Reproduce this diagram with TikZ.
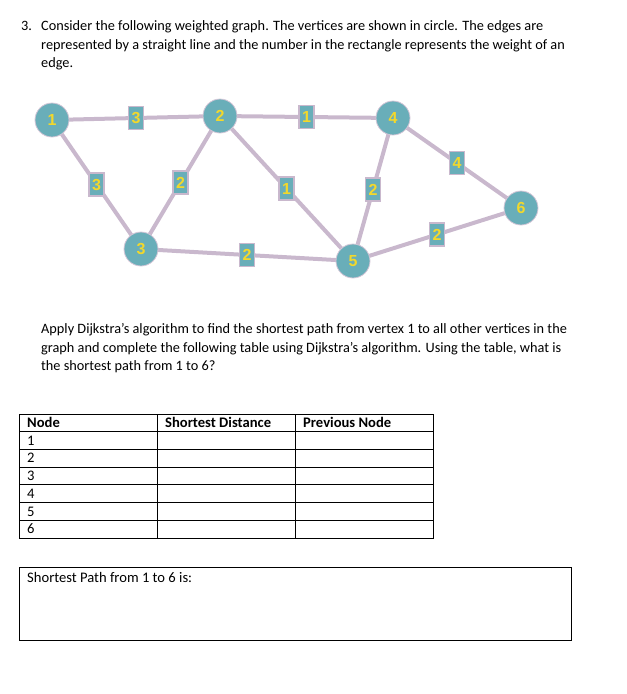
\documentclass[tikz,border=0pt]{standalone}
\usepackage{fontspec}
\setmainfont{Carlito}
\newfontfamily\labelfont{Liberation Sans}
\usetikzlibrary{positioning,backgrounds}
\definecolor{vertTeal}{HTML}{69AEB9}
\definecolor{edgeLilac}{HTML}{C9B8CD}
\definecolor{wtYellow}{HTML}{F2D82C}

\begin{document}
\begin{tikzpicture}[x=1pt, y=-1pt,
  vertex/.style={circle, fill=vertTeal, draw=edgeLilac!80, line width=0.8pt, minimum size=34pt,
    inner sep=0pt, font=\labelfont\bfseries\fontsize{16}{16}\selectfont, text=wtYellow},
  weight/.style={rectangle, fill=vertTeal, draw=edgeLilac, line width=1.6pt, minimum width=15pt,
    minimum height=23pt, inner sep=0pt, font=\labelfont\bfseries\fontsize{16}{16}\selectfont, text=wtYellow},
  link/.style={edgeLilac, line width=4pt},
  body/.style={font=\fontsize{14.3}{18.5}\selectfont, align=left, anchor=base west, inner sep=0pt},
  cell/.style={font=\fontsize{14.6}{18.5}\selectfont, anchor=base west, inner sep=0pt},
  head/.style={cell, font=\fontsize{14.6}{18.5}\selectfont\bfseries},
  grid/.style={black, line width=1pt}
]
  \useasboundingbox (0,0) rectangle (627,694);

  % question (base = last line)
  \node[body] (qnum) at (21,30.5) {3.};
  \node[body] (qtext) at (41,67.5)
    {Consider the following weighted graph. The vertices are shown in circle. The edges are\\
     represented by a straight line and the number in the rectangle represents the weight of an\\
     edge.};

  % graph
  \node[vertex] (v1) at (52,120) {1};
  \node[vertex] (v2) at (220,116) {2};
  \node[vertex] (v3) at (141,249) {3};
  \node[vertex] (v4) at (393,118) {4};
  \node[vertex] (v5) at (353,261) {5};
  \node[vertex] (v6) at (521,208) {6};

  \begin{scope}[on background layer]
    \foreach \a/\b/\w in {v1/v2/3, v1/v3/3, v2/v3/2, v2/v5/1, v3/v5/2, v2/v4/1, v4/v5/2, v4/v6/4, v5/v6/2}{
      \draw[link] (\a.center) -- node[weight] (w-\a-\b) {\w} (\b.center);
    }
  \end{scope}

  % task
  \node[body] (task) at (41,370.5)
    {Apply Dijkstra’s algorithm to find the shortest path from vertex 1 to all other vertices in the\\
     graph and complete the following table using Dijkstra’s algorithm. Using the table, what is\\
     the shortest path from 1 to 6?};

  % table
  \draw[grid] (19.5,414) rectangle (433,538);
  \foreach \k in {1,...,6}{ \draw[grid] (19.5,414+17.71*\k) -- (433,414+17.71*\k); }
  \draw[grid] (157,414) -- (157,538);
  \draw[grid] (295,414) -- (295,538);
  \node[head] (hnode) at (27,427.5) {Node};
  \node[head] (hdist) at (165,427.5) {Shortest Distance};
  \node[head] (hprev) at (303,427.5) {Previous Node};
  \foreach \k in {1,...,6}{ \node[cell] (row\k) at (27,427.5+17.71*\k) {\k}; }

  % answer box
  \draw[grid] (19.5,567.5) rectangle (571,640);
  \node[cell] (answer) at (27,582) {Shortest Path from 1 to 6 is:};
\end{tikzpicture}
\end{document}
